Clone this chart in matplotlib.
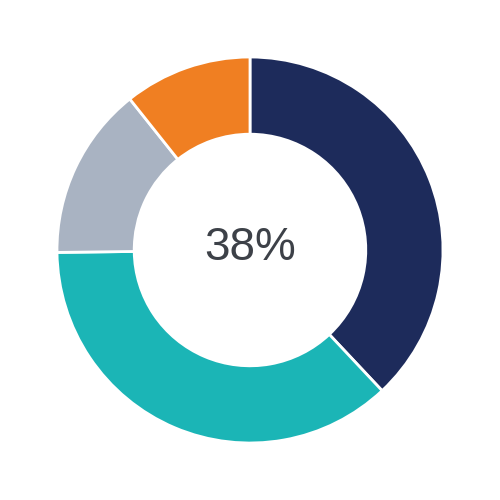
import matplotlib
matplotlib.use("Agg")
import matplotlib.pyplot as plt

# donut segments, clockwise from 12 o'clock
labels = ["Navy", "Teal", "Gray", "Orange"]
shares = [38.0, 36.8, 14.5, 10.7]
colors = ["#1d2b5b", "#1bb5b6", "#a9b3c2", "#f07f22"]
center_text = "38%"

fig = plt.figure(figsize=(5, 5), dpi=100)
ax = fig.add_axes([0, 0, 1, 1])

ax.pie(
    shares,
    labels=None,
    colors=colors,
    startangle=90,
    counterclock=False,
    radius=1.0,
    wedgeprops=dict(width=0.4, edgecolor="white", linewidth=2),
)
ax.text(0, 0.01, center_text, ha="center", va="center",
        fontsize=33, color="#3d4148", family="Liberation Sans")

lim = 250 / 193
ax.set_xlim(-lim, lim)
ax.set_ylim(-lim, lim)
ax.set_aspect("equal")
ax.axis("off")

fig.savefig("out.png", dpi=100, facecolor="white")
